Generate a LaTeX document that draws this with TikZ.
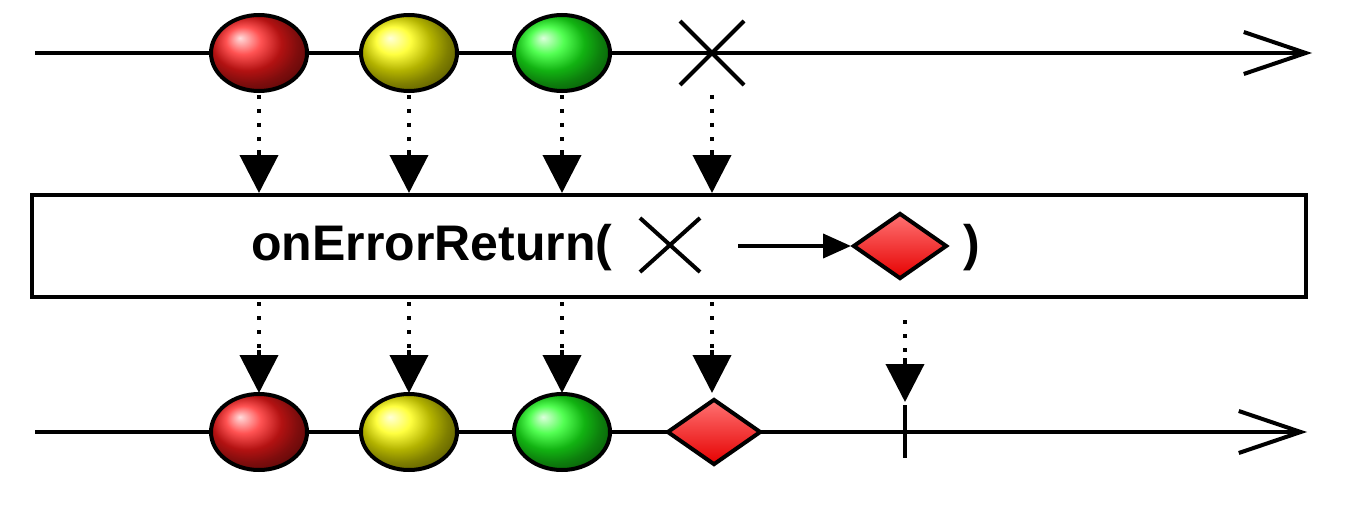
\documentclass[tikz,border=0pt]{standalone}
\usepackage{fontspec}
\setmainfont{Liberation Sans}
\usetikzlibrary{arrows.meta,shapes.geometric}
\begin{document}
\begin{tikzpicture}[x=1pt,y=-1pt,
 line/.style={line width=4pt,-{Straight Barb[length=62pt,width=42pt,line width=4pt]}},
 marble/.style={ellipse,draw=black,line width=4pt,minimum width=96pt,minimum height=76pt,inner sep=0pt},
 dia/.style={diamond,draw=black,line width=4pt,minimum width=94pt,minimum height=66pt,inner sep=0pt,aspect=1.4,top color=red!55!white,bottom color=red!90!black},
 dot/.style={line width=4pt,dash pattern=on 4pt off 10pt},
 tip/.style={-{Triangle[length=38pt,width=38pt]},line width=4pt},
 cross/.style={line width=4pt}]
\useasboundingbox (0,0) rectangle (1364,524);
\coordinate (t0) at (35,53); \coordinate (t1) at (1312,53);
\draw[line] (t0) -- (t1);
\foreach \x/\c/\n in {259/red!90!white/a,409/yellow/b,562/green!90!white/c}{
 \node[marble,ball color=\c] (t\n) at (\x,53) {};}
\draw[cross] (680,21) -- (744,85) (680,85) -- (744,21);
\node[draw=black,line width=4pt,fill=white,minimum width=1274pt,minimum height=102pt,inner sep=0pt] (box) at (669,246) {};
\node[font=\bfseries\fontsize{50}{56}\selectfont,anchor=east] (lab) at (616,248) {onErrorReturn(};
\draw[cross] (640,218) -- (700,272) (640,272) -- (700,218);
\node[dia] (bd) at (900,246) {};
\coordinate (a0) at (738,246);
\draw[line width=4pt,-{Triangle[length=28pt,width=24pt]}] (a0) -- (bd.west);
\node[font=\bfseries\fontsize{50}{56}\selectfont] (rp) at (972,248) {)};
\foreach \x in {259,409,562,712}{
 \draw[dot] (\x,95) -- (\x,150);
 \draw[tip] (\x,150) -- (\x,193);
 \draw[dot] (\x,302) -- (\x,350);
 \draw[tip] (\x,350) -- (\x,393);}
\draw[dot] (905,320) -- (905,358);
\draw[tip] (905,358) -- (905,402);
\coordinate (b0) at (35,432); \coordinate (b1) at (1307,432);
\draw[line] (b0) -- (b1);
\foreach \x/\c/\n in {259/red!90!white/a,409/yellow/b,562/green!90!white/c}{
 \node[marble,ball color=\c] (b\n) at (\x,432) {};}
\node[dia] (bdm) at (714,432) {};
\coordinate (e0) at (905,405); \coordinate (e1) at (905,458);
\draw[line width=4pt] (e0) -- (e1);
\end{tikzpicture}
\end{document}
